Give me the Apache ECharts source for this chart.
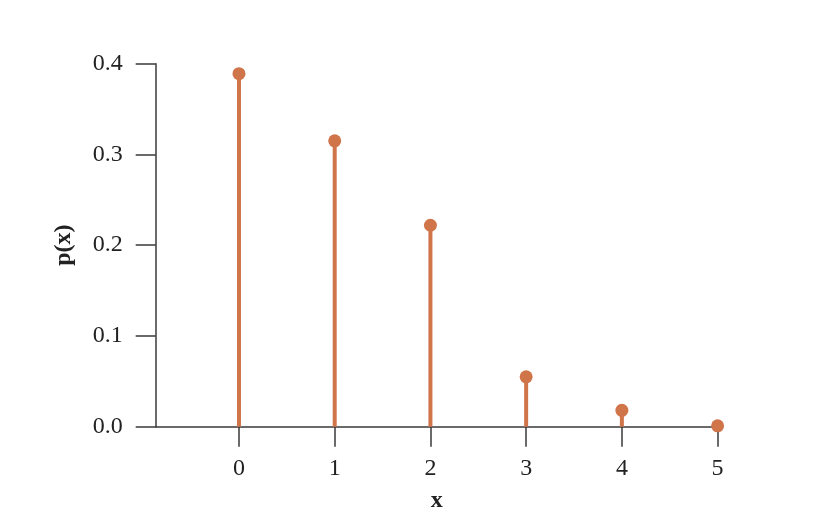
<!DOCTYPE html>
<html>
<head>
    <meta charset="utf-8">
    <script src="https://cdn.jsdelivr.net/npm/echarts@6/dist/echarts.min.js"></script>
</head>
<body style="margin:0;background:#fff;">
<div id="main" style="width: 830px;height:520px;"></div>
<script type="text/javascript">
    // data
    var xValues = [0, 1, 2, 3, 4, 5];
    var probs = [0.389, 0.315, 0.222, 0.055, 0.018, 0.001];
    var yTicks = [0, 0.1, 0.2, 0.3, 0.4];

    var points = xValues.map(function (x, i) { return [x, probs[i]]; });

    var stemColor = '#d0744a';
    var axisColor = '#3a3a3a';
    var font = 'Liberation Serif';

    var myChart = echarts.init(document.getElementById('main'));

    var option = {
        animation: false,
        grid: {left: 155.7, right: 112.4, top: 63.7, bottom: 93.3},
        xAxis: {
            type: 'value',
            min: -0.87,
            max: 5,
            name: 'x',
            nameLocation: 'middle',
            nameGap: 62,
            nameTextStyle: {fontFamily: font, fontWeight: 'bold', fontSize: 24, color: '#222'},
            axisLine: {show: true, onZero: false, lineStyle: {color: axisColor, width: 1.5}},
            axisTick: {show: true, inside: false, length: 20, customValues: xValues,
                lineStyle: {color: axisColor, width: 1.5}},
            axisLabel: {customValues: xValues, margin: 30, fontFamily: font, fontSize: 24, color: '#222'},
            splitLine: {show: false}
        },
        yAxis: {
            type: 'value',
            min: yTicks[0],
            max: yTicks[yTicks.length - 1],
            interval: 0.1,
            name: 'p(x)',
            nameLocation: 'middle',
            nameGap: 80,
            nameTextStyle: {fontFamily: font, fontWeight: 'bold', fontSize: 24, color: '#222'},
            axisLine: {show: true, onZero: false, lineStyle: {color: axisColor, width: 1.5}},
            axisTick: {show: true, length: 20, lineStyle: {color: axisColor, width: 1.5}},
            axisLabel: {margin: 33, fontFamily: font, fontSize: 24, color: '#222',
                formatter: function (v) { return v.toFixed(1); }},
            splitLine: {show: false}
        },
        series: [
            {
                type: 'bar',
                data: points,
                barWidth: 4,
                itemStyle: {color: stemColor},
                z: 3
            },
            {
                type: 'scatter',
                data: points,
                symbolSize: 13,
                itemStyle: {color: stemColor, opacity: 1},
                z: 4
            }
        ]
    };

    myChart.setOption(option);
</script>
</body>
</html>
